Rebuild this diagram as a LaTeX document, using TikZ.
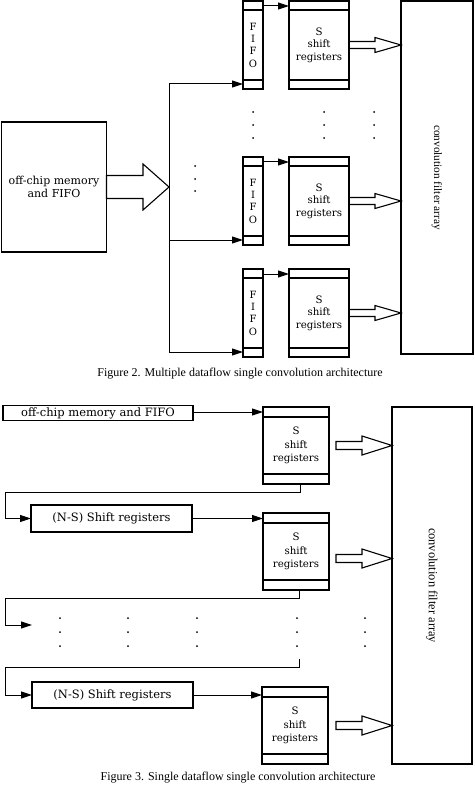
\documentclass[tikz,border=0pt]{standalone}
\usepackage{fontspec}
\setmainfont{Liberation Serif}
\newfontfamily\boxfont{DejaVu Serif}
\usetikzlibrary{arrows.meta,calc}
\tikzset{
  blk/.style={draw,line width=1.2pt,inner sep=0pt,outer sep=0pt,align=center},
  fifo/.style={blk,minimum width=20pt,minimum height=88pt,font=\boxfont\fontsize{10}{12.3}\selectfont},
  sreg/.style={blk,minimum width=60pt,minimum height=88pt,font=\boxfont\fontsize{10.2}{12.5}\selectfont},
  bsreg/.style={blk,minimum width=66pt,minimum height=77pt,font=\boxfont\fontsize{10.2}{13.5}\selectfont},
  wide/.style={blk,font=\boxfont\fontsize{11.5}{13}\selectfont},
  conv/.style={blk,font=\fontsize{11.3}{13}\selectfont},
  captxt/.style={inner sep=0pt,font=\fontsize{12}{14}\selectfont},
  wire/.style={line width=1pt},
  sig/.style={wire,-{Triangle[length=11pt,width=7pt]}},
  fat/.style={line width=1.1pt,line join=miter}
}
% top and bottom cells of a register column
\newcommand{\regcells}[2]{%
  \draw[line width=1.2pt] ([yshift=-#2]#1.north west) -- ([yshift=-#2]#1.north east)
    ([yshift=#2]#1.south west) -- ([yshift=#2]#1.south east);}
% hollow block arrow: from, to, shaft half, head half, head length
\newcommand{\fatarrow}[5]{%
  \draw[fat] let \p1=#1, \p2=#2 in
    (\x1,\y1+#3) -- (\x2-#5,\y1+#3) -- (\x2-#5,\y1+#4) -- (\x2,\y1)
    -- (\x2-#5,\y1-#4) -- (\x2-#5,\y1-#3) -- (\x1,\y1-#3) -- cycle;}

\begin{document}
\begin{tikzpicture}[x=1pt,y=-1pt]
\useasboundingbox (0,0) rectangle (474,786);

% Figure 2
\node[blk,minimum width=105pt,minimum height=130pt,font=\boxfont\fontsize{11}{13}\selectfont] (mem) at (54,187) {off-chip memory\\and FIFO};
\node[fifo] (fifo1) at (253,45) {F\\I\\F\\O};
\node[sreg] (sr1) at (319,45) {S\\shift\\registers};
\node[fifo] (fifo2) at (253,201) {F\\I\\F\\O};
\node[sreg] (sr2) at (319,201) {S\\shift\\registers};
\node[fifo] (fifo3) at (253,313) {F\\I\\F\\O};
\node[sreg] (sr3) at (319,313) {S\\shift\\registers};
\node[conv,minimum width=72pt,minimum height=353pt] (conv1) at (437,177.5) {\rotatebox{-90}{convolution filter array}};

\regcells{fifo1}{9pt}
\regcells{fifo2}{9pt}
\regcells{fifo3}{9pt}
\regcells{sr1}{9pt}
\regcells{sr2}{9pt}
\regcells{sr3}{9pt}

\coordinate (bus) at (169,0);
\coordinate (in1) at ([yshift=5pt]fifo1.south west);
\coordinate (in2) at ([yshift=5pt]fifo2.south west);
\coordinate (in3) at ([yshift=5pt]fifo3.south west);
\fatarrow{(mem.east)}{(bus |- mem.east)}{11.5pt}{23pt}{26pt}
\draw[wire] (bus |- in1) -- (bus |- in3);
\draw[sig] (bus |- in1) -- (in1);
\draw[sig] (bus |- in2) -- (in2);
\draw[sig] (bus |- in3) -- (in3);

\draw[sig] ([yshift=-5pt]fifo1.north east) -- ([yshift=-5pt]sr1.north west);
\draw[sig] ([yshift=-5pt]fifo2.north east) -- ([yshift=-5pt]sr2.north west);
\draw[sig] ([yshift=-5pt]fifo3.north east) -- ([yshift=-5pt]sr3.north west);

\fatarrow{(sr1.east)}{(conv1.west)}{3.5pt}{7.5pt}{26pt}
\fatarrow{(sr2.east)}{(conv1.west)}{3.5pt}{7.5pt}{26pt}
\fatarrow{(sr3.east)}{(conv1.west)}{3.5pt}{7.5pt}{26pt}

\foreach \y in {166,179,191} \fill (195,\y) circle (1pt);
\foreach \x in {253,324,374} \foreach \y in {112,125,138} \fill (\x,\y) circle (1pt);

\node[captxt] (fig2) at (240,374) {Figure 2. Multiple dataflow single convolution architecture};

% Figure 3
\node[wide,minimum width=190pt,minimum height=15pt] (mem2) at (98,413) {off-chip memory and FIFO};
\node[bsreg] (bsr1) at (296,445.5) {S\\shift\\registers};
\node[wide,minimum width=161pt,minimum height=27pt] (ns1) at (111.5,518.5) {(N-S) Shift registers};
\node[bsreg] (bsr2) at (296,551.5) {S\\shift\\registers};
\node[wide,minimum width=161pt,minimum height=26pt] (ns2) at (112.5,695) {(N-S) Shift registers};
\node[bsreg] (bsr3) at (295,725.5) {S\\shift\\registers};
\node[conv,minimum width=80pt,minimum height=357pt,font=\fontsize{12.4}{14}\selectfont] (conv2) at (432,585.5) {\rotatebox{-90}{convolution filter array}};

\regcells{bsr1}{10pt}
\regcells{bsr2}{10pt}
\regcells{bsr3}{10pt}

\coordinate (bin1) at ([yshift=-5pt]bsr1.north west);
\draw[sig] (mem2.east |- bin1) -- (bin1);
\coordinate (fb1) at (5,492);
\draw[sig] ([xshift=4pt]bsr1.south) |- (fb1) |- (ns1.west);
\draw[sig] (ns1.east) -- (ns1.east -| bsr2.west);
\coordinate (fb2) at (5,598);
\coordinate (dotin) at (32,625);
\draw[sig] ([xshift=3pt]bsr2.south) |- (fb2) |- (dotin);
\coordinate (stub) at (299,659);
\coordinate (fb3) at (5,667);
\draw[sig] (stub) |- (fb3) |- (ns2.west);
\draw[sig] (ns2.east) -- (ns2.east -| bsr3.west);

\foreach \x in {60,128,197,297,365} \foreach \y in {618,632,646} \fill (\x,\y) circle (1pt);

\fatarrow{([xshift=7pt]bsr1.east)}{(conv2.west)}{4pt}{9.5pt}{30pt}
\fatarrow{([xshift=7pt,yshift=-7pt]bsr2.east)}{(conv2.west)}{4pt}{9.5pt}{30pt}
\fatarrow{([xshift=8pt]bsr3.east)}{(conv2.west)}{4pt}{9.5pt}{30pt}

\node[captxt,anchor=north] (fig3) at (238,772) {Figure 3. Single dataflow single convolution architecture};
\end{tikzpicture}
\end{document}
